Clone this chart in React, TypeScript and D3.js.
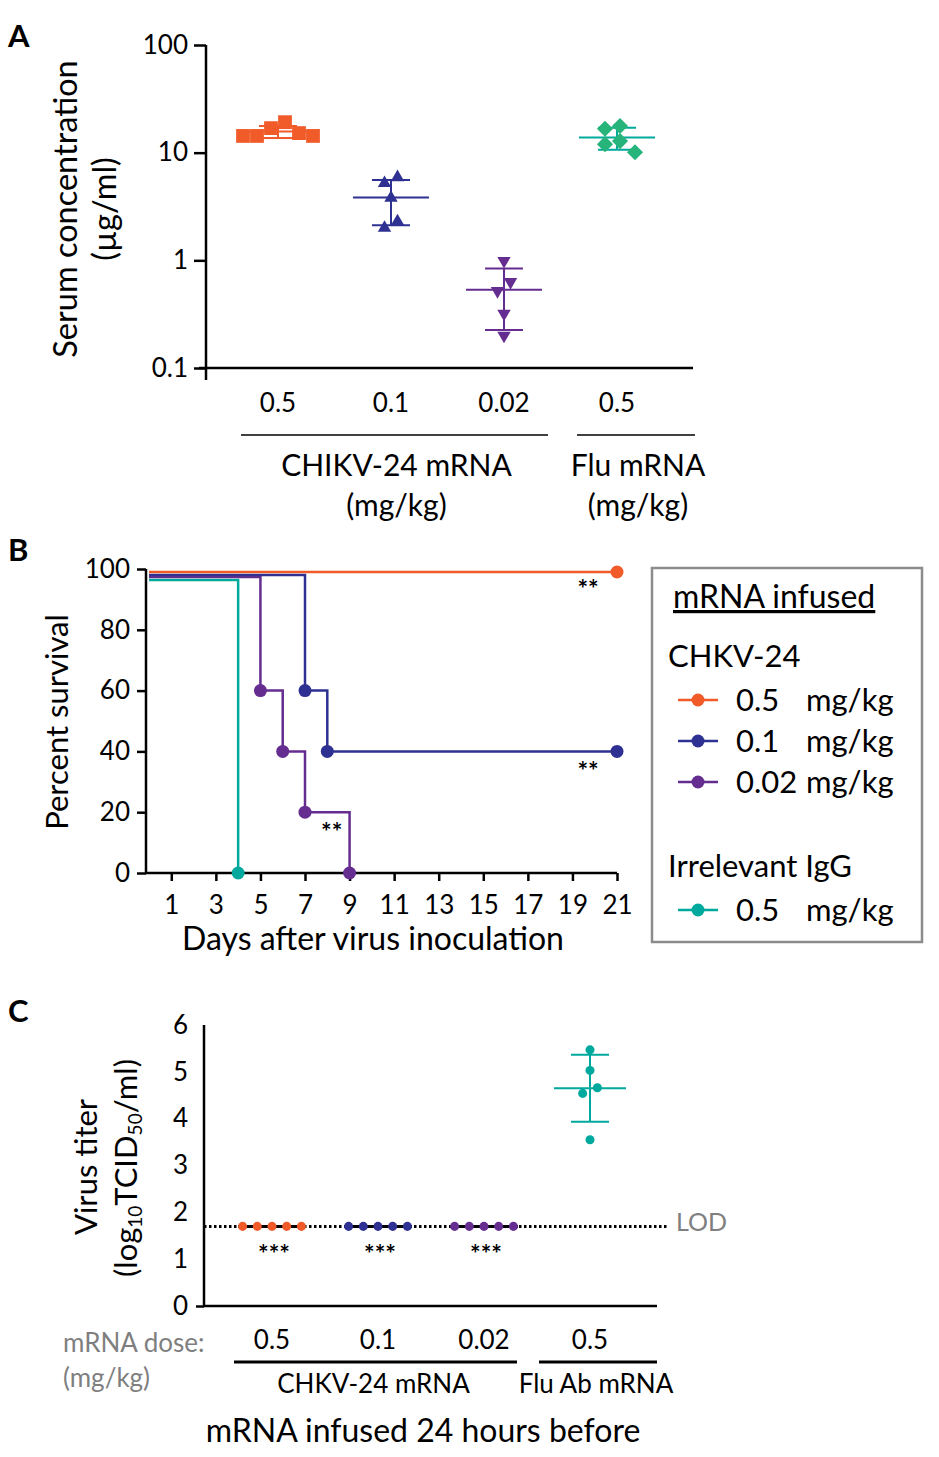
import React, { useEffect, useRef } from "react";
import * as d3 from "d3";

type G = d3.Selection<SVGGElement, unknown, null, undefined>;

const FONT = "Lato, 'Open Sans', 'DejaVu Sans', sans-serif";

// A: serum antibody concentration (µg/ml)
const serumGroupIds = ["chikv-0.5", "chikv-0.1", "chikv-0.02", "flu-0.5"];
const serumDoseLabels = ["0.5", "0.1", "0.02", "0.5"];
const serumChikv05 = [19.2, 16.9, 15.2, 14.3, 14.3, 14.3];
const serumChikv01 = [5.9, 5.2, 3.8, 2.3, 2.0];
const serumChikv002 = [0.99, 0.63, 0.52, 0.32, 0.2];
const serumFlu05 = [17.7, 16.7, 12.8, 12.0, 10.1];
const serumTicks = [0.1, 1, 10, 100];

// B: percent survival after challenge, [day, percent]
const survivalTicksX = [1, 3, 5, 7, 9, 11, 13, 15, 17, 19, 21];
const survivalTicksY = [0, 20, 40, 60, 80, 100];
const survChikv05: [number, number][] = [[0, 100], [21, 100]];
const survChikv01: [number, number][] = [[0, 100], [7, 60], [8, 40], [21, 40]];
const survChikv002: [number, number][] = [[0, 100], [5, 60], [6, 40], [7, 20], [9, 0]];
const survIgg05: [number, number][] = [[0, 100], [4, 0]];
const survivalStars = [
  { day: 19.7, pct: 100, text: "**" },
  { day: 19.7, pct: 40, text: "**" },
  { day: 8.2, pct: 20, text: "**" },
];

// C: virus titer (log10 TCID50/ml), values under the LOD are plotted at the LOD
const titerGroupIds = ["chkv-0.5", "chkv-0.1", "chkv-0.02", "flu-0.5"];
const titerDoseLabels = ["0.5", "0.1", "0.02", "0.5"];
const titerLod = 1.7;
const titerChkv05 = [1.7, 1.7, 1.7, 1.7, 1.7];
const titerChkv01 = [1.7, 1.7, 1.7, 1.7, 1.7];
const titerChkv002 = [1.7, 1.7, 1.7, 1.7, 1.7];
const titerFlu05 = [5.47, 5.03, 4.66, 4.54, 3.55];
const titerStars = ["***", "***", "***", ""];
const titerTicks = [0, 1, 2, 3, 4, 5, 6];

const ORANGE = "#F15A29";
const BLUE = "#2E3192";
const PURPLE = "#662D91";
const TEAL = "#00A99D";
const GREEN = "#27B47A";
const GREY = "#7F7F7F";

// horizontal spread for points that would overlap, centred per cluster
function swarm(ys: number[], minDist: number): number[] {
  const step = minDist / 2;
  const xs: number[] = [];
  ys.forEach((y) => {
    for (let k = 0; ; k++) {
      const c = k === 0 ? 0 : (k % 2 ? -1 : 1) * Math.ceil(k / 2) * step;
      if (xs.every((x, j) => Math.hypot(x - c, ys[j] - y) >= minDist - 0.01)) {
        xs.push(c);
        break;
      }
    }
  });
  const order = d3.range(ys.length).sort((a, b) => ys[a] - ys[b]);
  let run: number[] = [];
  const flush = () => {
    const m = d3.mean(run, (i) => xs[i]) ?? 0;
    run.forEach((i) => (xs[i] -= m));
    run = [];
  };
  order.forEach((i, n) => {
    if (n > 0 && ys[i] - ys[order[n - 1]] >= minDist) flush();
    run.push(i);
  });
  flush();
  return xs;
}

function text(g: G, x: number, y: number, s: string, size: number, anchor = "middle", fill = "#000") {
  return g
    .append("text")
    .attr("x", x)
    .attr("y", y)
    .attr("font-size", size)
    .attr("text-anchor", anchor)
    .attr("fill", fill)
    .text(s);
}

interface ScatterStyle {
  symbol: d3.SymbolType;
  size: number;
  rotate: number;
  fill: string;
  line: string;
  lineWidth: number;
  minDist: number;
  meanHalf: number;
  capHalf: number;
}

// mean ± SD with the individual animals on top
function drawScatter(g: G, cx: number, values: number[], y: (v: number) => number, st: ScatterStyle) {
  const m = d3.mean(values) ?? 0;
  const sd = d3.deviation(values) ?? 0;
  const lg = g.append("g").attr("stroke", st.line).attr("stroke-width", st.lineWidth);
  lg.append("line").attr("x1", cx).attr("x2", cx).attr("y1", y(m - sd)).attr("y2", y(m + sd));
  [m - sd, m + sd].forEach((v) =>
    lg.append("line").attr("x1", cx - st.capHalf).attr("x2", cx + st.capHalf).attr("y1", y(v)).attr("y2", y(v))
  );
  lg.append("line").attr("x1", cx - st.meanHalf).attr("x2", cx + st.meanHalf).attr("y1", y(m)).attr("y2", y(m));

  const ys = values.map(y);
  const dx = swarm(ys, st.minDist);
  const sym = d3.symbol(st.symbol, st.size);
  g.append("g")
    .selectAll("path")
    .data(values)
    .join("path")
    .attr("d", sym)
    .attr("fill", st.fill)
    .attr("transform", (_, i) => `translate(${cx + dx[i]},${ys[i]}) rotate(${st.rotate})`);
}

function styleAxis(ax: G, size: number) {
  ax.attr("font-family", FONT).attr("font-size", size);
  ax.selectAll(".tick text").attr("fill", "#000");
  ax.selectAll(".tick line").attr("stroke", "#000").attr("stroke-width", 2.5);
  ax.select(".domain").remove();
}

function drawSerumPanel(g: G) {
  const xA = d3.scaleBand<string>().domain(serumGroupIds).range([221.5, 673.5]);
  const yA = d3.scaleLog().domain([0.1, 100]).range([368, 45]);
  const cx = (id: string) => (xA(id) ?? 0) + xA.bandwidth() / 2;

  text(g, 8, 47, "A", 31, "start").attr("font-weight", "bold");

  const ay = g.append("g").attr("transform", "translate(206,0)")
    .call(d3.axisLeft(yA).tickValues(serumTicks).tickFormat((d) => d3.format("~g")(d as number)).tickSize(12).tickSizeOuter(0).tickPadding(6));
  styleAxis(ay, 26);
  g.append("line").attr("x1", 206).attr("x2", 206).attr("y1", 45).attr("y2", 380).attr("stroke", "#000").attr("stroke-width", 2.5);
  g.append("line").attr("x1", 199).attr("x2", 693).attr("y1", yA(0.1)).attr("y2", yA(0.1)).attr("stroke", "#000").attr("stroke-width", 2.5);

  const ax = g.append("g").attr("transform", `translate(0,${yA(0.1)})`)
    .call(d3.axisBottom(xA).tickSize(0).tickPadding(26).tickFormat((_, i) => serumDoseLabels[i]));
  styleAxis(ax, 26);

  const base = { lineWidth: 2, meanHalf: 38, capHalf: 19 };
  drawScatter(g, cx(serumGroupIds[0]), serumChikv05, yA, { ...base, symbol: d3.symbolSquare, size: 190, rotate: 0, fill: ORANGE, line: ORANGE, minDist: 14 });
  drawScatter(g, cx(serumGroupIds[1]), serumChikv01, yA, { ...base, symbol: d3.symbolTriangle, size: 78, rotate: 0, fill: BLUE, line: BLUE, minDist: 13 });
  drawScatter(g, cx(serumGroupIds[2]), serumChikv002, yA, { ...base, symbol: d3.symbolTriangle, size: 78, rotate: 180, fill: PURPLE, line: PURPLE, minDist: 13 });
  drawScatter(g, cx(serumGroupIds[3]), serumFlu05, yA, { ...base, symbol: d3.symbolSquare, size: 130, rotate: 45, fill: GREEN, line: TEAL, minDist: 15 });

  // group brackets under the dose labels
  const brackets = [
    { x1: 241, x2: 548, lines: ["CHIKV-24 mRNA", "(mg/kg)"] },
    { x1: 577, x2: 695, lines: ["Flu mRNA", "(mg/kg)"] },
  ];
  brackets.forEach((b) => {
    g.append("line").attr("x1", b.x1).attr("x2", b.x2).attr("y1", 435).attr("y2", 435).attr("stroke", "#000").attr("stroke-width", 1.5);
    b.lines.forEach((s, i) => text(g, (b.x1 + b.x2) / 2 + 2, 476 + i * 40, s, 30));
  });

  g.append("text").attr("transform", "translate(77,209) rotate(-90)").attr("text-anchor", "middle").attr("font-size", 32.5).text("Serum concentration");
  g.append("text").attr("transform", "translate(116,209) rotate(-90)").attr("text-anchor", "middle").attr("font-size", 32.5).text("(µg/ml)");
}

function drawSurvivalPanel(g: G) {
  const xB = d3.scaleLinear().domain([0, 21]).range([149, 617]);
  const yB = d3.scaleLinear().domain([0, 100]).range([873, 569]);

  text(g, 8, 561, "B", 31, "start").attr("font-weight", "bold");

  const ay = g.append("g").attr("transform", "translate(146,0)")
    .call(d3.axisLeft(yB).tickValues(survivalTicksY).tickSize(9).tickPadding(7));
  styleAxis(ay, 26);
  const ax = g.append("g").attr("transform", "translate(0,873)")
    .call(d3.axisBottom(xB).tickValues(survivalTicksX).tickSize(8).tickPadding(15));
  styleAxis(ax, 26);
  g.append("path").attr("d", "M146,569V873H617").attr("fill", "none").attr("stroke", "#000").attr("stroke-width", 2.5);

  // drawn back to front; the shared 100 % plateau is staggered so every curve shows
  const series = [
    { pts: survIgg05, color: TEAL, lift: 11 },
    { pts: survChikv002, color: PURPLE, lift: 8 },
    { pts: survChikv01, color: BLUE, lift: 6 },
    { pts: survChikv05, color: ORANGE, lift: 3 },
  ];
  series.forEach((s) => {
    const y = (d: [number, number]) => yB(d[1]) + (d[1] === 100 ? s.lift : 0);
    const line = d3.line<[number, number]>().x((d) => xB(d[0])).y(y).curve(d3.curveStepAfter);
    g.append("path").datum(s.pts).attr("d", line).attr("fill", "none").attr("stroke", s.color).attr("stroke-width", 2.5);
    g.append("g").selectAll("circle").data(s.pts.slice(1)).join("circle")
      .attr("cx", (d) => xB(d[0])).attr("cy", y).attr("r", 6.5).attr("fill", s.color);
  });

  survivalStars.forEach((s) => text(g, xB(s.day), yB(s.pct) + 29, s.text, 25).attr("font-weight", "bold"));

  g.append("text").attr("transform", "translate(68,722) rotate(-90)").attr("text-anchor", "middle").attr("font-size", 31).text("Percent survival");
  text(g, 373, 950, "Days after virus inoculation", 32);

  // legend
  g.append("rect").attr("x", 652).attr("y", 568).attr("width", 270).attr("height", 374).attr("fill", "none").attr("stroke", "#8C8C8C").attr("stroke-width", 2.5);
  text(g, 673, 608, "mRNA infused", 32, "start").attr("text-decoration", "underline");
  text(g, 668, 667, "CHKV-24", 31, "start");
  text(g, 668, 877, "Irrelevant IgG", 31, "start");
  const entries = [
    { y: 700, dose: "0.5", color: ORANGE },
    { y: 741, dose: "0.1", color: BLUE },
    { y: 782, dose: "0.02", color: PURPLE },
    { y: 910, dose: "0.5", color: TEAL },
  ];
  entries.forEach((e) => {
    g.append("line").attr("x1", 678).attr("x2", 718).attr("y1", e.y).attr("y2", e.y).attr("stroke", e.color).attr("stroke-width", 2.5);
    g.append("circle").attr("cx", 698).attr("cy", e.y).attr("r", 6.5).attr("fill", e.color);
    text(g, 736, e.y + 11, e.dose, 31, "start");
    text(g, 806, e.y + 11, "mg/kg", 31, "start");
  });
}

function drawTiterPanel(g: G) {
  const xC = d3.scaleBand<string>().domain(titerGroupIds).range([219, 643]);
  const yC = d3.scaleLinear().domain([0, 6]).range([1306, 1025]);
  const cx = (id: string) => (xC(id) ?? 0) + xC.bandwidth() / 2;

  text(g, 8, 1022, "C", 31, "start").attr("font-weight", "bold");

  const ay = g.append("g").attr("transform", "translate(204,0)")
    .call(d3.axisLeft(yC).tickValues(titerTicks).tickFormat(d3.format("d")).tickSize(8).tickPadding(8));
  styleAxis(ay, 26);
  ay.selectAll<SVGLineElement, number>(".tick line").filter((d) => d !== 0).remove();
  g.append("path").attr("d", "M204,1025V1306H657").attr("fill", "none").attr("stroke", "#000").attr("stroke-width", 2.5);

  const ax = g.append("g").attr("transform", "translate(0,1306)")
    .call(d3.axisBottom(xC).tickSize(0).tickPadding(25).tickFormat((_, i) => titerDoseLabels[i]));
  styleAxis(ax, 26);

  // limit of detection
  g.append("line").attr("x1", 204).attr("x2", 668).attr("y1", yC(titerLod)).attr("y2", yC(titerLod))
    .attr("stroke", "#000").attr("stroke-width", 3).attr("stroke-dasharray", "2.5 2.5");
  text(g, 676, yC(titerLod) - 2, "LOD", 25, "start", GREY).attr("dominant-baseline", "middle");

  const dot = { symbol: d3.symbolCircle, size: 64, rotate: 0, minDist: 14.7, capHalf: 19 };
  const groups = [
    { v: titerChkv05, fill: ORANGE, line: "#000", meanHalf: 34, w: 3 },
    { v: titerChkv01, fill: BLUE, line: "#000", meanHalf: 34, w: 3 },
    { v: titerChkv002, fill: PURPLE, line: "#000", meanHalf: 34, w: 3 },
    { v: titerFlu05, fill: TEAL, line: TEAL, meanHalf: 36, w: 2 },
  ];
  groups.forEach((gr, i) => {
    const x = cx(titerGroupIds[i]);
    drawScatter(g, x, gr.v, yC, { ...dot, fill: gr.fill, line: gr.line, lineWidth: gr.w, meanHalf: gr.meanHalf });
    if (titerStars[i]) text(g, x + 2, yC(titerLod) + 37, titerStars[i], 25).attr("font-weight", "bold");
  });

  const brackets = [
    { x1: 234, x2: 517, label: "CHKV-24 mRNA" },
    { x1: 539, x2: 657, label: "Flu Ab mRNA" },
  ];
  brackets.forEach((b) => {
    g.append("line").attr("x1", b.x1).attr("x2", b.x2).attr("y1", 1362).attr("y2", 1362).attr("stroke", "#000").attr("stroke-width", 3);
    text(g, (b.x1 + b.x2) / 2 - 2, 1393, b.label, 26);
  });
  text(g, 423, 1442, "mRNA infused 24 hours before", 32);
  text(g, 63, 1352, "mRNA dose:", 26, "start", GREY);
  text(g, 63, 1387, "(mg/kg)", 26, "start", GREY);

  g.append("text").attr("transform", "translate(97,1167) rotate(-90)").attr("text-anchor", "middle").attr("font-size", 31).text("Virus titer");
  const t = g.append("text").attr("transform", "translate(137,1168) rotate(-90)").attr("text-anchor", "middle").attr("font-size", 31);
  t.append("tspan").text("(log");
  t.append("tspan").attr("font-size", 19).attr("dy", 5).text("10");
  t.append("tspan").attr("dy", -5).text("TCID");
  t.append("tspan").attr("font-size", 19).attr("dy", 5).text("50");
  t.append("tspan").attr("dy", -5).text("/ml)");
}

export default function App() {
  const svgRef = useRef<SVGSVGElement>(null);

  useEffect(() => {
    if (!svgRef.current) return;
    const svg = d3.select(svgRef.current);
    svg.selectAll("*").remove();
    drawSerumPanel(svg.append("g"));
    drawSurvivalPanel(svg.append("g"));
    drawTiterPanel(svg.append("g"));
  }, []);

  return (
    <svg
      ref={svgRef}
      width={939}
      height={1457}
      fontFamily={FONT}
      style={{ position: "absolute", left: 0, top: 0, background: "#fff" }}
    />
  );
}
